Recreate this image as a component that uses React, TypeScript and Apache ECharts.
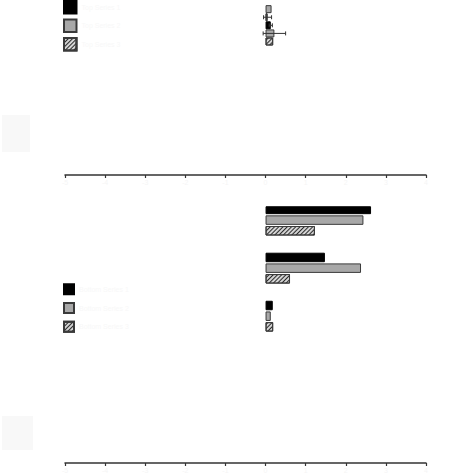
import { useEffect, useRef } from 'react';
import * as echarts from 'echarts';

// x scale
const xMin = -5;
const xMax = 4;
const xStep = 1;

// top panel: two groups (black, gray, hatched)
const topBlack = [null, 0.13];
const topGray = [0.15, 0.22];
const topHatched = [0.05, 0.19];
const topBlackErr = [0, 0.04];
const topGrayErr = [0, 0.28];
const topHatchedErr = [0.1, 0];

// bottom panel: three groups
const bottomBlack = [2.63, 1.48, 0.18];
const bottomGray = [2.44, 2.38, 0.13];
const bottomHatched = [1.23, 0.61, 0.19];

const seriesNames = ['Series 1', 'Series 2', 'Series 3'];

const TOP_ROWS = 21;
const BOTTOM_ROWS = 48;
// first black bar of the top panel sits above the plot, so rows start one earlier
const topRow = (g: number, s: number) => g * 3 + s - 1;
const bottomRow = (g: number, s: number) => g * 9 + s * 2;

function toRows(values: (number | null)[], total: number, rowOf: (g: number, s: number) => number, s: number) {
  const out: (number | null)[] = new Array(total).fill(null);
  values.forEach((v, g) => {
    const r = rowOf(g, s);
    if (r >= 0 && r < total) out[r] = v;
  });
  return out;
}

const hatchDecal = {
  symbol: 'rect',
  symbolSize: 1,
  color: '#2a2a2a',
  dashArrayX: [1, 0],
  dashArrayY: [1, 2],
  rotation: -Math.PI / 4,
};

const styles = [
  { color: '#000000', borderColor: '#000000', borderWidth: 1 },
  { color: '#a8a8a8', borderColor: '#3a3a3a', borderWidth: 1 },
  { color: '#d4d4d4', borderColor: '#3a3a3a', borderWidth: 1, decal: hatchDecal },
];

function App() {
  const chartRef = useRef<HTMLDivElement>(null);

  useEffect(() => {
    if (!chartRef.current) return;
    const chart = echarts.init(chartRef.current, null, { renderer: 'svg' });

    const xAxisBase = {
      type: 'value',
      min: xMin,
      max: xMax,
      interval: xStep,
      axisLine: { show: true, lineStyle: { color: '#333333', width: 1.5 } },
      axisTick: { show: true, length: 3, lineStyle: { color: '#333333', width: 1.2 } },
      axisLabel: { color: '#f5f5f5', fontSize: 7, margin: 4 },
      splitLine: { show: false },
    };

    const topData = [topBlack, topGray, topHatched];
    const bottomData = [bottomBlack, bottomGray, bottomHatched];
    const topErrs = [topBlackErr, topGrayErr, topHatchedErr];

    const errData: number[][] = [];
    topData.forEach((vals, s) => {
      vals.forEach((v, g) => {
        const e = topErrs[s][g];
        const r = topRow(g, s);
        if (v != null && e > 0 && r >= 0) errData.push([v, r, e]);
      });
    });

    const legendBase = {
      orient: 'vertical',
      left: 63,
      padding: 0,
      icon: 'rect',
      selectedMode: false,
      textStyle: { color: '#f8f8f8', fontSize: 7 },
    };

    chart.setOption({
      animation: false,
      grid: [
        { left: 65, right: 48, top: 5.1, bottom: 299 },
        { left: 65, right: 48, top: 206.75, bottom: 2 },
      ],
      xAxis: [
        { ...xAxisBase, gridIndex: 0 },
        { ...xAxisBase, gridIndex: 1 },
      ],
      yAxis: [
        {
          type: 'category',
          gridIndex: 0,
          inverse: true,
          show: false,
          data: Array.from({ length: TOP_ROWS }, (_, i) => String(i)),
        },
        {
          type: 'category',
          gridIndex: 1,
          inverse: true,
          show: false,
          data: Array.from({ length: BOTTOM_ROWS }, (_, i) => String(i)),
        },
      ],
      legend: [
        {
          ...legendBase,
          data: seriesNames.map((n) => 'Top ' + n),
          top: 0,
          itemWidth: 12.5,
          itemHeight: 12.5,
          itemGap: 4,
        },
        {
          ...legendBase,
          data: seriesNames.map((n) => 'Bottom ' + n),
          top: 283.3,
          itemWidth: 10,
          itemHeight: 10,
          itemGap: 6.7,
        },
      ],
      graphic: [
        { type: 'rect', shape: { x: 2, y: 115, width: 28, height: 37 }, style: { fill: '#f8f8f8' }, silent: true },
        { type: 'rect', shape: { x: 2, y: 416, width: 31, height: 34 }, style: { fill: '#f8f8f8' }, silent: true },
      ],
      series: [
        ...topData.map((vals, s) => ({
          name: 'Top ' + seriesNames[s],
          type: 'bar',
          xAxisIndex: 0,
          yAxisIndex: 0,
          barWidth: 8,
          barGap: '-100%',
          itemStyle: styles[s],
          data: toRows(vals, TOP_ROWS, topRow, s),
        })),
        ...bottomData.map((vals, s) => ({
          name: 'Bottom ' + seriesNames[s],
          type: 'bar',
          xAxisIndex: 1,
          yAxisIndex: 1,
          barWidth: 9.5,
          barGap: '-100%',
          itemStyle: styles[s],
          data: toRows(vals, BOTTOM_ROWS, bottomRow, s),
        })),
        {
          type: 'custom',
          xAxisIndex: 0,
          yAxisIndex: 0,
          z: 5,
          encode: { x: 0, y: 1 },
          data: errData,
          renderItem: (_params: any, api: any) => {
            const v = api.value(0);
            const row = api.value(1);
            const e = api.value(2);
            const lo = api.coord([v - e, row]);
            const hi = api.coord([v + e, row]);
            const stroke = { stroke: '#333333', lineWidth: 1 };
            return {
              type: 'group',
              children: [
                { type: 'line', shape: { x1: lo[0], y1: lo[1], x2: hi[0], y2: hi[1] }, style: stroke },
                { type: 'line', shape: { x1: lo[0], y1: lo[1] - 2, x2: lo[0], y2: lo[1] + 2 }, style: stroke },
                { type: 'line', shape: { x1: hi[0], y1: hi[1] - 2, x2: hi[0], y2: hi[1] + 2 }, style: stroke },
              ],
            };
          },
        },
      ],
    });

    return () => chart.dispose();
  }, []);

  return (
    <div
      ref={chartRef}
      style={{ position: 'fixed', left: 0, top: 0, width: '474px', height: '474px', background: '#ffffff' }}
    />
  );
}

export default App;
